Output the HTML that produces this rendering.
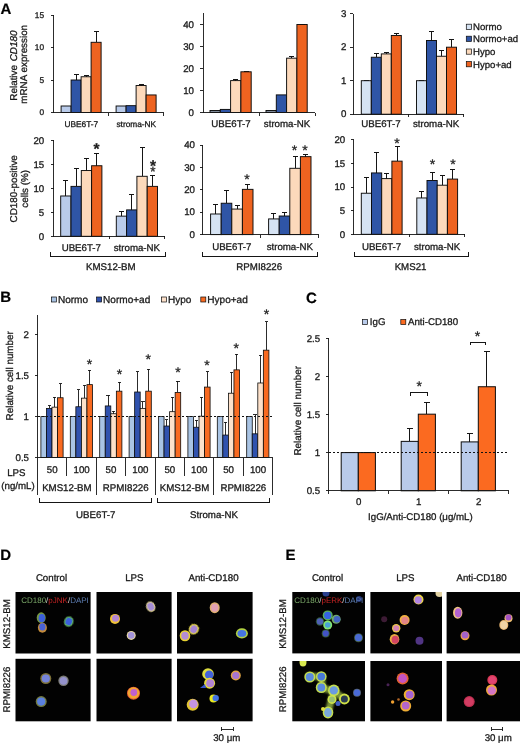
<!DOCTYPE html>
<html lang="en"><head><meta charset="utf-8"><title>Figure</title>
<style>html,body{margin:0;padding:0;background:#fff}svg{display:block}text{font-family:"Liberation Sans",Arial,sans-serif;text-rendering:geometricPrecision}</style>
</head><body>
<svg width="520" height="745" viewBox="0 0 520 745">
<rect width="520" height="745" fill="#fff"/>
<defs>
<filter id="b1" x="-40%" y="-40%" width="180%" height="180%"><feGaussianBlur stdDeviation="0.72"/></filter>
<filter id="b2" x="-30%" y="-30%" width="160%" height="160%"><feGaussianBlur stdDeviation="1.1"/></filter>
</defs>
<text x="0.6" y="13.9" font-size="15" fill="#000" stroke="#000" stroke-width="0.2" font-weight="bold">A</text>
<text transform="translate(17.2 65.6) rotate(-90)" font-size="9.9" word-spacing="1" text-anchor="middle" fill="#1a1a1a" stroke="#1a1a1a" stroke-width="0.3">Relative <tspan font-style="italic">CD180</tspan></text>
<text x="27.5" y="64.3" font-size="9.85" fill="#1a1a1a" stroke="#1a1a1a" stroke-width="0.3" text-anchor="middle" transform="rotate(-90 27.5 64.3)">mRNA expression</text>
<rect x="61.1" y="106" width="10" height="6.5" fill="#b9cbea" stroke="#0c0c0c" stroke-width="0.95"/>
<line x1="76.1" y1="80" x2="76.1" y2="74.15" stroke="#151515" stroke-width="1" shape-rendering="crispEdges"/>
<line x1="73.6" y1="74.15" x2="78.6" y2="74.15" stroke="#151515" stroke-width="1" shape-rendering="crispEdges"/>
<rect x="71.1" y="80" width="10" height="32.5" fill="#2f55a6" stroke="#0c0c0c" stroke-width="0.95"/>
<line x1="86.1" y1="76.75" x2="86.1" y2="75.78" stroke="#151515" stroke-width="1" shape-rendering="crispEdges"/>
<line x1="83.6" y1="75.78" x2="88.6" y2="75.78" stroke="#151515" stroke-width="1" shape-rendering="crispEdges"/>
<rect x="81.1" y="76.75" width="10" height="35.75" fill="#fcd9bb" stroke="#0c0c0c" stroke-width="0.95"/>
<line x1="96.1" y1="42.3" x2="96.1" y2="31.9" stroke="#151515" stroke-width="1" shape-rendering="crispEdges"/>
<line x1="93.6" y1="31.9" x2="98.6" y2="31.9" stroke="#151515" stroke-width="1" shape-rendering="crispEdges"/>
<rect x="91.1" y="42.3" width="10" height="70.2" fill="#ee6320" stroke="#0c0c0c" stroke-width="0.95"/>
<rect x="116.1" y="106" width="10" height="6.5" fill="#b9cbea" stroke="#0c0c0c" stroke-width="0.95"/>
<rect x="126.1" y="105.67" width="10" height="6.83" fill="#2f55a6" stroke="#0c0c0c" stroke-width="0.95"/>
<line x1="141.1" y1="85.53" x2="141.1" y2="84.88" stroke="#151515" stroke-width="1" shape-rendering="crispEdges"/>
<line x1="138.6" y1="84.88" x2="143.6" y2="84.88" stroke="#151515" stroke-width="1" shape-rendering="crispEdges"/>
<rect x="136.1" y="85.53" width="10" height="26.97" fill="#fcd9bb" stroke="#0c0c0c" stroke-width="0.95"/>
<rect x="146.1" y="94.95" width="10" height="17.55" fill="#ee6320" stroke="#0c0c0c" stroke-width="0.95"/>
<line x1="53.8" y1="15" x2="53.8" y2="112.9" stroke="#151515" stroke-width="0.9" shape-rendering="crispEdges"/>
<line x1="53.4" y1="112.5" x2="163.8" y2="112.5" stroke="#151515" stroke-width="0.9" shape-rendering="crispEdges"/>
<line x1="108.8" y1="112.5" x2="108.8" y2="115.5" stroke="#151515" stroke-width="0.9" shape-rendering="crispEdges"/>
<line x1="163.8" y1="112.5" x2="163.8" y2="115.5" stroke="#151515" stroke-width="0.9" shape-rendering="crispEdges"/>
<line x1="50.8" y1="112.5" x2="53.8" y2="112.5" stroke="#151515" stroke-width="0.9" shape-rendering="crispEdges"/>
<text x="44.1" y="115.28" font-size="8.3" fill="#1a1a1a" stroke="#1a1a1a" stroke-width="0.3" text-anchor="end">0</text>
<line x1="50.8" y1="80" x2="53.8" y2="80" stroke="#151515" stroke-width="0.9" shape-rendering="crispEdges"/>
<text x="44.1" y="82.78" font-size="8.3" fill="#1a1a1a" stroke="#1a1a1a" stroke-width="0.3" text-anchor="end">5</text>
<line x1="50.8" y1="47.5" x2="53.8" y2="47.5" stroke="#151515" stroke-width="0.9" shape-rendering="crispEdges"/>
<text x="44.1" y="50.28" font-size="8.3" fill="#1a1a1a" stroke="#1a1a1a" stroke-width="0.3" text-anchor="end">10</text>
<line x1="50.8" y1="15" x2="53.8" y2="15" stroke="#151515" stroke-width="0.9" shape-rendering="crispEdges"/>
<text x="44.1" y="17.78" font-size="8.3" fill="#1a1a1a" stroke="#1a1a1a" stroke-width="0.3" text-anchor="end">15</text>
<text x="81.3" y="126.6" font-size="8.3" fill="#1a1a1a" stroke="#1a1a1a" stroke-width="0.3" text-anchor="middle">UBE6T-7</text>
<text x="136.3" y="126.6" font-size="8.3" fill="#1a1a1a" stroke="#1a1a1a" stroke-width="0.3" text-anchor="middle">stroma-NK</text>
<rect x="210" y="110.52" width="10.3" height="1.98" fill="#7f8a99" stroke="#0c0c0c" stroke-width="0.95"/>
<rect x="220.3" y="109.42" width="10.3" height="3.08" fill="#2f55a6" stroke="#0c0c0c" stroke-width="0.95"/>
<line x1="235.75" y1="80.6" x2="235.75" y2="79.5" stroke="#151515" stroke-width="1" shape-rendering="crispEdges"/>
<line x1="233.25" y1="79.5" x2="238.25" y2="79.5" stroke="#151515" stroke-width="1" shape-rendering="crispEdges"/>
<rect x="230.6" y="80.6" width="10.3" height="31.9" fill="#fcd9bb" stroke="#0c0c0c" stroke-width="0.95"/>
<line x1="246.05" y1="71.8" x2="246.05" y2="71.14" stroke="#151515" stroke-width="1" shape-rendering="crispEdges"/>
<line x1="243.55" y1="71.14" x2="248.55" y2="71.14" stroke="#151515" stroke-width="1" shape-rendering="crispEdges"/>
<rect x="240.9" y="71.8" width="10.3" height="40.7" fill="#ee6320" stroke="#0c0c0c" stroke-width="0.95"/>
<rect x="266" y="110.52" width="10.3" height="1.98" fill="#7f8a99" stroke="#0c0c0c" stroke-width="0.95"/>
<rect x="276.3" y="94.9" width="10.3" height="17.6" fill="#2f55a6" stroke="#0c0c0c" stroke-width="0.95"/>
<line x1="291.75" y1="58.16" x2="291.75" y2="56.84" stroke="#151515" stroke-width="1" shape-rendering="crispEdges"/>
<line x1="289.25" y1="56.84" x2="294.25" y2="56.84" stroke="#151515" stroke-width="1" shape-rendering="crispEdges"/>
<rect x="286.6" y="58.16" width="10.3" height="54.34" fill="#fcd9bb" stroke="#0c0c0c" stroke-width="0.95"/>
<line x1="302.05" y1="24.5" x2="302.05" y2="24.06" stroke="#151515" stroke-width="1" shape-rendering="crispEdges"/>
<line x1="299.55" y1="24.06" x2="304.55" y2="24.06" stroke="#151515" stroke-width="1" shape-rendering="crispEdges"/>
<rect x="296.9" y="24.5" width="10.3" height="88" fill="#ee6320" stroke="#0c0c0c" stroke-width="0.95"/>
<line x1="203" y1="13" x2="203" y2="112.9" stroke="#151515" stroke-width="0.9" shape-rendering="crispEdges"/>
<line x1="202.6" y1="112.5" x2="315" y2="112.5" stroke="#151515" stroke-width="0.9" shape-rendering="crispEdges"/>
<line x1="259" y1="112.5" x2="259" y2="115.5" stroke="#151515" stroke-width="0.9" shape-rendering="crispEdges"/>
<line x1="315" y1="112.5" x2="315" y2="115.5" stroke="#151515" stroke-width="0.9" shape-rendering="crispEdges"/>
<line x1="200" y1="112.5" x2="203" y2="112.5" stroke="#151515" stroke-width="0.9" shape-rendering="crispEdges"/>
<text x="194" y="115.75" font-size="9.7" fill="#1a1a1a" stroke="#1a1a1a" stroke-width="0.3" text-anchor="end">0</text>
<line x1="200" y1="90.5" x2="203" y2="90.5" stroke="#151515" stroke-width="0.9" shape-rendering="crispEdges"/>
<text x="194" y="93.75" font-size="9.7" fill="#1a1a1a" stroke="#1a1a1a" stroke-width="0.3" text-anchor="end">10</text>
<line x1="200" y1="68.5" x2="203" y2="68.5" stroke="#151515" stroke-width="0.9" shape-rendering="crispEdges"/>
<text x="194" y="71.75" font-size="9.7" fill="#1a1a1a" stroke="#1a1a1a" stroke-width="0.3" text-anchor="end">20</text>
<line x1="200" y1="46.5" x2="203" y2="46.5" stroke="#151515" stroke-width="0.9" shape-rendering="crispEdges"/>
<text x="194" y="49.75" font-size="9.7" fill="#1a1a1a" stroke="#1a1a1a" stroke-width="0.3" text-anchor="end">30</text>
<line x1="200" y1="24.5" x2="203" y2="24.5" stroke="#151515" stroke-width="0.9" shape-rendering="crispEdges"/>
<text x="194" y="27.75" font-size="9.7" fill="#1a1a1a" stroke="#1a1a1a" stroke-width="0.3" text-anchor="end">40</text>
<text x="231" y="127.1" font-size="9.7" fill="#1a1a1a" stroke="#1a1a1a" stroke-width="0.3" text-anchor="middle">UBE6T-7</text>
<text x="287" y="127.1" font-size="9.7" fill="#1a1a1a" stroke="#1a1a1a" stroke-width="0.3" text-anchor="middle">stroma-NK</text>
<line x1="366.3" y1="80.7" x2="366.3" y2="80.03" stroke="#151515" stroke-width="1" shape-rendering="crispEdges"/>
<line x1="363.8" y1="80.03" x2="368.8" y2="80.03" stroke="#151515" stroke-width="1" shape-rendering="crispEdges"/>
<rect x="361.3" y="80.7" width="10" height="33.5" fill="#d6e3f3" stroke="#0c0c0c" stroke-width="0.95"/>
<line x1="376.3" y1="57.25" x2="376.3" y2="53.56" stroke="#151515" stroke-width="1" shape-rendering="crispEdges"/>
<line x1="373.8" y1="53.56" x2="378.8" y2="53.56" stroke="#151515" stroke-width="1" shape-rendering="crispEdges"/>
<rect x="371.3" y="57.25" width="10" height="56.95" fill="#2f55a6" stroke="#0c0c0c" stroke-width="0.95"/>
<line x1="386.3" y1="53.9" x2="386.3" y2="52.23" stroke="#151515" stroke-width="1" shape-rendering="crispEdges"/>
<line x1="383.8" y1="52.23" x2="388.8" y2="52.23" stroke="#151515" stroke-width="1" shape-rendering="crispEdges"/>
<rect x="381.3" y="53.9" width="10" height="60.3" fill="#fcd9bb" stroke="#0c0c0c" stroke-width="0.95"/>
<line x1="396.3" y1="35.47" x2="396.3" y2="33.47" stroke="#151515" stroke-width="1" shape-rendering="crispEdges"/>
<line x1="393.8" y1="33.47" x2="398.8" y2="33.47" stroke="#151515" stroke-width="1" shape-rendering="crispEdges"/>
<rect x="391.3" y="35.47" width="10" height="78.73" fill="#ee6320" stroke="#0c0c0c" stroke-width="0.95"/>
<line x1="421.5" y1="80.7" x2="421.5" y2="80.03" stroke="#151515" stroke-width="1" shape-rendering="crispEdges"/>
<line x1="419" y1="80.03" x2="424" y2="80.03" stroke="#151515" stroke-width="1" shape-rendering="crispEdges"/>
<rect x="416.5" y="80.7" width="10" height="33.5" fill="#d6e3f3" stroke="#0c0c0c" stroke-width="0.95"/>
<line x1="431.5" y1="40.5" x2="431.5" y2="31.79" stroke="#151515" stroke-width="1" shape-rendering="crispEdges"/>
<line x1="429" y1="31.79" x2="434" y2="31.79" stroke="#151515" stroke-width="1" shape-rendering="crispEdges"/>
<rect x="426.5" y="40.5" width="10" height="73.7" fill="#2f55a6" stroke="#0c0c0c" stroke-width="0.95"/>
<line x1="441.5" y1="56.25" x2="441.5" y2="50.55" stroke="#151515" stroke-width="1" shape-rendering="crispEdges"/>
<line x1="439" y1="50.55" x2="444" y2="50.55" stroke="#151515" stroke-width="1" shape-rendering="crispEdges"/>
<rect x="436.5" y="56.25" width="10" height="57.95" fill="#fcd9bb" stroke="#0c0c0c" stroke-width="0.95"/>
<line x1="451.5" y1="47.2" x2="451.5" y2="39.83" stroke="#151515" stroke-width="1" shape-rendering="crispEdges"/>
<line x1="449" y1="39.83" x2="454" y2="39.83" stroke="#151515" stroke-width="1" shape-rendering="crispEdges"/>
<rect x="446.5" y="47.2" width="10" height="67" fill="#ee6320" stroke="#0c0c0c" stroke-width="0.95"/>
<line x1="353.3" y1="13.5" x2="353.3" y2="114.6" stroke="#151515" stroke-width="0.9" shape-rendering="crispEdges"/>
<line x1="352.9" y1="114.2" x2="463.7" y2="114.2" stroke="#151515" stroke-width="0.9" shape-rendering="crispEdges"/>
<line x1="408.5" y1="114.2" x2="408.5" y2="117.2" stroke="#151515" stroke-width="0.9" shape-rendering="crispEdges"/>
<line x1="463.7" y1="114.2" x2="463.7" y2="117.2" stroke="#151515" stroke-width="0.9" shape-rendering="crispEdges"/>
<line x1="350.3" y1="114.2" x2="353.3" y2="114.2" stroke="#151515" stroke-width="0.9" shape-rendering="crispEdges"/>
<text x="346.3" y="117.45" font-size="9.7" fill="#1a1a1a" stroke="#1a1a1a" stroke-width="0.3" text-anchor="end">0</text>
<line x1="350.3" y1="80.7" x2="353.3" y2="80.7" stroke="#151515" stroke-width="0.9" shape-rendering="crispEdges"/>
<text x="346.3" y="83.95" font-size="9.7" fill="#1a1a1a" stroke="#1a1a1a" stroke-width="0.3" text-anchor="end">1</text>
<line x1="350.3" y1="47.2" x2="353.3" y2="47.2" stroke="#151515" stroke-width="0.9" shape-rendering="crispEdges"/>
<text x="346.3" y="50.45" font-size="9.7" fill="#1a1a1a" stroke="#1a1a1a" stroke-width="0.3" text-anchor="end">2</text>
<line x1="350.3" y1="13.7" x2="353.3" y2="13.7" stroke="#151515" stroke-width="0.9" shape-rendering="crispEdges"/>
<text x="346.3" y="16.95" font-size="9.7" fill="#1a1a1a" stroke="#1a1a1a" stroke-width="0.3" text-anchor="end">3</text>
<text x="380.9" y="127.1" font-size="9.7" fill="#1a1a1a" stroke="#1a1a1a" stroke-width="0.3" text-anchor="middle">UBE6T-7</text>
<text x="436.1" y="127.1" font-size="9.7" fill="#1a1a1a" stroke="#1a1a1a" stroke-width="0.3" text-anchor="middle">stroma-NK</text>
<rect x="466.3" y="24.2" width="5.2" height="5.2" fill="#d6e3f3" stroke="#0c0c0c" stroke-width="0.7"/>
<text x="473" y="30.2" font-size="9.6" fill="#1a1a1a" stroke="#1a1a1a" stroke-width="0.3">Normo</text>
<rect x="466.3" y="36.2" width="5.2" height="5.2" fill="#2f55a6" stroke="#0c0c0c" stroke-width="0.7"/>
<text x="473" y="42.2" font-size="9.6" fill="#1a1a1a" stroke="#1a1a1a" stroke-width="0.3">Normo+ad</text>
<rect x="466.3" y="49" width="5.2" height="5.2" fill="#fcd9bb" stroke="#0c0c0c" stroke-width="0.7"/>
<text x="473" y="55" font-size="9.6" fill="#1a1a1a" stroke="#1a1a1a" stroke-width="0.3">Hypo</text>
<rect x="466.3" y="61.6" width="5.2" height="5.2" fill="#ee6320" stroke="#0c0c0c" stroke-width="0.7"/>
<text x="473" y="67.6" font-size="9.6" fill="#1a1a1a" stroke="#1a1a1a" stroke-width="0.3">Hypo+ad</text>
<text x="16.6" y="188.8" font-size="9.85" fill="#1a1a1a" stroke="#1a1a1a" stroke-width="0.3" text-anchor="middle" transform="rotate(-90 16.6 188.8)">CD180-positive</text>
<text x="27.8" y="188.8" font-size="9.85" fill="#1a1a1a" stroke="#1a1a1a" stroke-width="0.3" text-anchor="middle" transform="rotate(-90 27.8 188.8)">cells (%)</text>
<line x1="65.85" y1="195.98" x2="65.85" y2="180.14" stroke="#151515" stroke-width="1" shape-rendering="crispEdges"/>
<line x1="63.35" y1="180.14" x2="68.35" y2="180.14" stroke="#151515" stroke-width="1" shape-rendering="crispEdges"/>
<rect x="60.7" y="195.98" width="10.3" height="40.32" fill="#b9cbea" stroke="#0c0c0c" stroke-width="0.95"/>
<line x1="76.15" y1="186.38" x2="76.15" y2="168.14" stroke="#151515" stroke-width="1" shape-rendering="crispEdges"/>
<line x1="73.65" y1="168.14" x2="78.65" y2="168.14" stroke="#151515" stroke-width="1" shape-rendering="crispEdges"/>
<rect x="71" y="186.38" width="10.3" height="49.92" fill="#2f55a6" stroke="#0c0c0c" stroke-width="0.95"/>
<line x1="86.45" y1="170.54" x2="86.45" y2="158.54" stroke="#151515" stroke-width="1" shape-rendering="crispEdges"/>
<line x1="83.95" y1="158.54" x2="88.95" y2="158.54" stroke="#151515" stroke-width="1" shape-rendering="crispEdges"/>
<rect x="81.3" y="170.54" width="10.3" height="65.76" fill="#fcd9bb" stroke="#0c0c0c" stroke-width="0.95"/>
<line x1="96.75" y1="165.74" x2="96.75" y2="153.74" stroke="#151515" stroke-width="1" shape-rendering="crispEdges"/>
<line x1="94.25" y1="153.74" x2="99.25" y2="153.74" stroke="#151515" stroke-width="1" shape-rendering="crispEdges"/>
<rect x="91.6" y="165.74" width="10.3" height="70.56" fill="#ee6320" stroke="#0c0c0c" stroke-width="0.95"/>
<line x1="121.45" y1="216.14" x2="121.45" y2="211.34" stroke="#151515" stroke-width="1" shape-rendering="crispEdges"/>
<line x1="118.95" y1="211.34" x2="123.95" y2="211.34" stroke="#151515" stroke-width="1" shape-rendering="crispEdges"/>
<rect x="116.3" y="216.14" width="10.3" height="20.16" fill="#b9cbea" stroke="#0c0c0c" stroke-width="0.95"/>
<line x1="131.75" y1="209.9" x2="131.75" y2="194.06" stroke="#151515" stroke-width="1" shape-rendering="crispEdges"/>
<line x1="129.25" y1="194.06" x2="134.25" y2="194.06" stroke="#151515" stroke-width="1" shape-rendering="crispEdges"/>
<rect x="126.6" y="209.9" width="10.3" height="26.4" fill="#2f55a6" stroke="#0c0c0c" stroke-width="0.95"/>
<line x1="142.05" y1="176.3" x2="142.05" y2="147.5" stroke="#151515" stroke-width="1" shape-rendering="crispEdges"/>
<line x1="139.55" y1="147.5" x2="144.55" y2="147.5" stroke="#151515" stroke-width="1" shape-rendering="crispEdges"/>
<rect x="136.9" y="176.3" width="10.3" height="60" fill="#fcd9bb" stroke="#0c0c0c" stroke-width="0.95"/>
<line x1="152.35" y1="186.38" x2="152.35" y2="175.82" stroke="#151515" stroke-width="1" shape-rendering="crispEdges"/>
<line x1="149.85" y1="175.82" x2="154.85" y2="175.82" stroke="#151515" stroke-width="1" shape-rendering="crispEdges"/>
<rect x="147.2" y="186.38" width="10.3" height="49.92" fill="#ee6320" stroke="#0c0c0c" stroke-width="0.95"/>
<line x1="53.5" y1="140.3" x2="53.5" y2="236.7" stroke="#151515" stroke-width="0.9" shape-rendering="crispEdges"/>
<line x1="53.1" y1="236.3" x2="164.7" y2="236.3" stroke="#151515" stroke-width="0.9" shape-rendering="crispEdges"/>
<line x1="109.1" y1="236.3" x2="109.1" y2="239.3" stroke="#151515" stroke-width="0.9" shape-rendering="crispEdges"/>
<line x1="164.7" y1="236.3" x2="164.7" y2="239.3" stroke="#151515" stroke-width="0.9" shape-rendering="crispEdges"/>
<line x1="50.5" y1="236.3" x2="53.5" y2="236.3" stroke="#151515" stroke-width="0.9" shape-rendering="crispEdges"/>
<text x="44.2" y="239.55" font-size="9.7" fill="#1a1a1a" stroke="#1a1a1a" stroke-width="0.3" text-anchor="end">0</text>
<line x1="50.5" y1="212.3" x2="53.5" y2="212.3" stroke="#151515" stroke-width="0.9" shape-rendering="crispEdges"/>
<text x="44.2" y="215.55" font-size="9.7" fill="#1a1a1a" stroke="#1a1a1a" stroke-width="0.3" text-anchor="end">5</text>
<line x1="50.5" y1="188.3" x2="53.5" y2="188.3" stroke="#151515" stroke-width="0.9" shape-rendering="crispEdges"/>
<text x="44.2" y="191.55" font-size="9.7" fill="#1a1a1a" stroke="#1a1a1a" stroke-width="0.3" text-anchor="end">10</text>
<line x1="50.5" y1="164.3" x2="53.5" y2="164.3" stroke="#151515" stroke-width="0.9" shape-rendering="crispEdges"/>
<text x="44.2" y="167.55" font-size="9.7" fill="#1a1a1a" stroke="#1a1a1a" stroke-width="0.3" text-anchor="end">15</text>
<line x1="50.5" y1="140.3" x2="53.5" y2="140.3" stroke="#151515" stroke-width="0.9" shape-rendering="crispEdges"/>
<text x="44.2" y="143.55" font-size="9.7" fill="#1a1a1a" stroke="#1a1a1a" stroke-width="0.3" text-anchor="end">20</text>
<text x="81.3" y="251.4" font-size="9.7" fill="#1a1a1a" stroke="#1a1a1a" stroke-width="0.3" text-anchor="middle">UBE6T-7</text>
<text x="136.9" y="251.4" font-size="9.7" fill="#1a1a1a" stroke="#1a1a1a" stroke-width="0.3" text-anchor="middle">stroma-NK</text>
<text x="96.4" y="154.16" font-size="15.5" fill="#1a1a1a" stroke="#1a1a1a" stroke-width="0.3" text-anchor="middle" font-weight="bold">*</text>
<text x="153" y="170.66" font-size="15.5" fill="#1a1a1a" stroke="#1a1a1a" stroke-width="0.3" text-anchor="middle" font-weight="bold">*</text>
<text x="153" y="175.52" font-size="13.5" fill="#1a1a1a" stroke="#1a1a1a" stroke-width="0.3" text-anchor="middle">*</text>
<line x1="215.9" y1="213.99" x2="215.9" y2="204.14" stroke="#151515" stroke-width="1" shape-rendering="crispEdges"/>
<line x1="213.4" y1="204.14" x2="218.4" y2="204.14" stroke="#151515" stroke-width="1" shape-rendering="crispEdges"/>
<rect x="210.6" y="213.99" width="10.6" height="20.61" fill="#d6e3f3" stroke="#0c0c0c" stroke-width="0.95"/>
<line x1="226.5" y1="203.24" x2="226.5" y2="190.25" stroke="#151515" stroke-width="1" shape-rendering="crispEdges"/>
<line x1="224" y1="190.25" x2="229" y2="190.25" stroke="#151515" stroke-width="1" shape-rendering="crispEdges"/>
<rect x="221.2" y="203.24" width="10.6" height="31.36" fill="#2f55a6" stroke="#0c0c0c" stroke-width="0.95"/>
<line x1="237.1" y1="209.06" x2="237.1" y2="205.93" stroke="#151515" stroke-width="1" shape-rendering="crispEdges"/>
<line x1="234.6" y1="205.93" x2="239.6" y2="205.93" stroke="#151515" stroke-width="1" shape-rendering="crispEdges"/>
<rect x="231.8" y="209.06" width="10.6" height="25.54" fill="#fcd9bb" stroke="#0c0c0c" stroke-width="0.95"/>
<line x1="247.7" y1="189.35" x2="247.7" y2="184.2" stroke="#151515" stroke-width="1" shape-rendering="crispEdges"/>
<line x1="245.2" y1="184.2" x2="250.2" y2="184.2" stroke="#151515" stroke-width="1" shape-rendering="crispEdges"/>
<rect x="242.4" y="189.35" width="10.6" height="45.25" fill="#ee6320" stroke="#0c0c0c" stroke-width="0.95"/>
<line x1="273.9" y1="218.92" x2="273.9" y2="213.77" stroke="#151515" stroke-width="1" shape-rendering="crispEdges"/>
<line x1="271.4" y1="213.77" x2="276.4" y2="213.77" stroke="#151515" stroke-width="1" shape-rendering="crispEdges"/>
<rect x="268.6" y="218.92" width="10.6" height="15.68" fill="#d6e3f3" stroke="#0c0c0c" stroke-width="0.95"/>
<line x1="284.5" y1="216.01" x2="284.5" y2="212.42" stroke="#151515" stroke-width="1" shape-rendering="crispEdges"/>
<line x1="282" y1="212.42" x2="287" y2="212.42" stroke="#151515" stroke-width="1" shape-rendering="crispEdges"/>
<rect x="279.2" y="216.01" width="10.6" height="18.59" fill="#2f55a6" stroke="#0c0c0c" stroke-width="0.95"/>
<line x1="295.1" y1="168.3" x2="295.1" y2="156.2" stroke="#151515" stroke-width="1" shape-rendering="crispEdges"/>
<line x1="292.6" y1="156.2" x2="297.6" y2="156.2" stroke="#151515" stroke-width="1" shape-rendering="crispEdges"/>
<rect x="289.8" y="168.3" width="10.6" height="66.3" fill="#fcd9bb" stroke="#0c0c0c" stroke-width="0.95"/>
<line x1="305.7" y1="156.65" x2="305.7" y2="154.41" stroke="#151515" stroke-width="1" shape-rendering="crispEdges"/>
<line x1="303.2" y1="154.41" x2="308.2" y2="154.41" stroke="#151515" stroke-width="1" shape-rendering="crispEdges"/>
<rect x="300.4" y="156.65" width="10.6" height="77.95" fill="#ee6320" stroke="#0c0c0c" stroke-width="0.95"/>
<line x1="202.8" y1="145.2" x2="202.8" y2="235" stroke="#151515" stroke-width="0.9" shape-rendering="crispEdges"/>
<line x1="202.4" y1="234.6" x2="318.8" y2="234.6" stroke="#151515" stroke-width="0.9" shape-rendering="crispEdges"/>
<line x1="260.8" y1="234.6" x2="260.8" y2="237.6" stroke="#151515" stroke-width="0.9" shape-rendering="crispEdges"/>
<line x1="318.8" y1="234.6" x2="318.8" y2="237.6" stroke="#151515" stroke-width="0.9" shape-rendering="crispEdges"/>
<line x1="199.8" y1="234.6" x2="202.8" y2="234.6" stroke="#151515" stroke-width="0.9" shape-rendering="crispEdges"/>
<text x="195" y="237.85" font-size="9.7" fill="#1a1a1a" stroke="#1a1a1a" stroke-width="0.3" text-anchor="end">0</text>
<line x1="199.8" y1="212.2" x2="202.8" y2="212.2" stroke="#151515" stroke-width="0.9" shape-rendering="crispEdges"/>
<text x="195" y="215.45" font-size="9.7" fill="#1a1a1a" stroke="#1a1a1a" stroke-width="0.3" text-anchor="end">10</text>
<line x1="199.8" y1="189.8" x2="202.8" y2="189.8" stroke="#151515" stroke-width="0.9" shape-rendering="crispEdges"/>
<text x="195" y="193.05" font-size="9.7" fill="#1a1a1a" stroke="#1a1a1a" stroke-width="0.3" text-anchor="end">20</text>
<line x1="199.8" y1="167.4" x2="202.8" y2="167.4" stroke="#151515" stroke-width="0.9" shape-rendering="crispEdges"/>
<text x="195" y="170.65" font-size="9.7" fill="#1a1a1a" stroke="#1a1a1a" stroke-width="0.3" text-anchor="end">30</text>
<line x1="199.8" y1="145" x2="202.8" y2="145" stroke="#151515" stroke-width="0.9" shape-rendering="crispEdges"/>
<text x="195" y="148.25" font-size="9.7" fill="#1a1a1a" stroke="#1a1a1a" stroke-width="0.3" text-anchor="end">40</text>
<text x="231.8" y="250.4" font-size="9.7" fill="#1a1a1a" stroke="#1a1a1a" stroke-width="0.3" text-anchor="middle">UBE6T-7</text>
<text x="289.8" y="250.4" font-size="9.7" fill="#1a1a1a" stroke="#1a1a1a" stroke-width="0.3" text-anchor="middle">stroma-NK</text>
<text x="247" y="184.08" font-size="14" fill="#1a1a1a" stroke="#1a1a1a" stroke-width="0.3" text-anchor="middle">*</text>
<text x="294.5" y="155.28" font-size="14" fill="#1a1a1a" stroke="#1a1a1a" stroke-width="0.3" text-anchor="middle">*</text>
<text x="305" y="155.28" font-size="14" fill="#1a1a1a" stroke="#1a1a1a" stroke-width="0.3" text-anchor="middle">*</text>
<line x1="366.4" y1="193.24" x2="366.4" y2="177.66" stroke="#151515" stroke-width="1" shape-rendering="crispEdges"/>
<line x1="363.9" y1="177.66" x2="368.9" y2="177.66" stroke="#151515" stroke-width="1" shape-rendering="crispEdges"/>
<rect x="361.3" y="193.24" width="10.2" height="41.06" fill="#d6e3f3" stroke="#0c0c0c" stroke-width="0.95"/>
<line x1="376.6" y1="172.94" x2="376.6" y2="152.17" stroke="#151515" stroke-width="1" shape-rendering="crispEdges"/>
<line x1="374.1" y1="152.17" x2="379.1" y2="152.17" stroke="#151515" stroke-width="1" shape-rendering="crispEdges"/>
<rect x="371.5" y="172.94" width="10.2" height="61.36" fill="#2f55a6" stroke="#0c0c0c" stroke-width="0.95"/>
<line x1="386.8" y1="178.6" x2="386.8" y2="173.41" stroke="#151515" stroke-width="1" shape-rendering="crispEdges"/>
<line x1="384.3" y1="173.41" x2="389.3" y2="173.41" stroke="#151515" stroke-width="1" shape-rendering="crispEdges"/>
<rect x="381.7" y="178.6" width="10.2" height="55.7" fill="#fcd9bb" stroke="#0c0c0c" stroke-width="0.95"/>
<line x1="397" y1="161.14" x2="397" y2="146.04" stroke="#151515" stroke-width="1" shape-rendering="crispEdges"/>
<line x1="394.5" y1="146.04" x2="399.5" y2="146.04" stroke="#151515" stroke-width="1" shape-rendering="crispEdges"/>
<rect x="391.9" y="161.14" width="10.2" height="73.16" fill="#ee6320" stroke="#0c0c0c" stroke-width="0.95"/>
<line x1="421.9" y1="197.96" x2="421.9" y2="191.35" stroke="#151515" stroke-width="1" shape-rendering="crispEdges"/>
<line x1="419.4" y1="191.35" x2="424.4" y2="191.35" stroke="#151515" stroke-width="1" shape-rendering="crispEdges"/>
<rect x="416.8" y="197.96" width="10.2" height="36.34" fill="#d6e3f3" stroke="#0c0c0c" stroke-width="0.95"/>
<line x1="432.1" y1="180.49" x2="432.1" y2="172" stroke="#151515" stroke-width="1" shape-rendering="crispEdges"/>
<line x1="429.6" y1="172" x2="434.6" y2="172" stroke="#151515" stroke-width="1" shape-rendering="crispEdges"/>
<rect x="427" y="180.49" width="10.2" height="53.81" fill="#2f55a6" stroke="#0c0c0c" stroke-width="0.95"/>
<line x1="442.3" y1="185.21" x2="442.3" y2="175.77" stroke="#151515" stroke-width="1" shape-rendering="crispEdges"/>
<line x1="439.8" y1="175.77" x2="444.8" y2="175.77" stroke="#151515" stroke-width="1" shape-rendering="crispEdges"/>
<rect x="437.2" y="185.21" width="10.2" height="49.09" fill="#fcd9bb" stroke="#0c0c0c" stroke-width="0.95"/>
<line x1="452.5" y1="179.08" x2="452.5" y2="169.64" stroke="#151515" stroke-width="1" shape-rendering="crispEdges"/>
<line x1="450" y1="169.64" x2="455" y2="169.64" stroke="#151515" stroke-width="1" shape-rendering="crispEdges"/>
<rect x="447.4" y="179.08" width="10.2" height="55.22" fill="#ee6320" stroke="#0c0c0c" stroke-width="0.95"/>
<line x1="353.8" y1="139.9" x2="353.8" y2="234.7" stroke="#151515" stroke-width="0.9" shape-rendering="crispEdges"/>
<line x1="353.4" y1="234.3" x2="464.8" y2="234.3" stroke="#151515" stroke-width="0.9" shape-rendering="crispEdges"/>
<line x1="409.3" y1="234.3" x2="409.3" y2="237.3" stroke="#151515" stroke-width="0.9" shape-rendering="crispEdges"/>
<line x1="464.8" y1="234.3" x2="464.8" y2="237.3" stroke="#151515" stroke-width="0.9" shape-rendering="crispEdges"/>
<line x1="350.8" y1="234.3" x2="353.8" y2="234.3" stroke="#151515" stroke-width="0.9" shape-rendering="crispEdges"/>
<text x="345.2" y="237.55" font-size="9.7" fill="#1a1a1a" stroke="#1a1a1a" stroke-width="0.3" text-anchor="end">0</text>
<line x1="350.8" y1="210.7" x2="353.8" y2="210.7" stroke="#151515" stroke-width="0.9" shape-rendering="crispEdges"/>
<text x="345.2" y="213.95" font-size="9.7" fill="#1a1a1a" stroke="#1a1a1a" stroke-width="0.3" text-anchor="end">5</text>
<line x1="350.8" y1="187.1" x2="353.8" y2="187.1" stroke="#151515" stroke-width="0.9" shape-rendering="crispEdges"/>
<text x="345.2" y="190.35" font-size="9.7" fill="#1a1a1a" stroke="#1a1a1a" stroke-width="0.3" text-anchor="end">10</text>
<line x1="350.8" y1="163.5" x2="353.8" y2="163.5" stroke="#151515" stroke-width="0.9" shape-rendering="crispEdges"/>
<text x="345.2" y="166.75" font-size="9.7" fill="#1a1a1a" stroke="#1a1a1a" stroke-width="0.3" text-anchor="end">15</text>
<line x1="350.8" y1="139.9" x2="353.8" y2="139.9" stroke="#151515" stroke-width="0.9" shape-rendering="crispEdges"/>
<text x="345.2" y="143.15" font-size="9.7" fill="#1a1a1a" stroke="#1a1a1a" stroke-width="0.3" text-anchor="end">20</text>
<text x="381.55" y="250" font-size="9.7" fill="#1a1a1a" stroke="#1a1a1a" stroke-width="0.3" text-anchor="middle">UBE6T-7</text>
<text x="437.05" y="250" font-size="9.7" fill="#1a1a1a" stroke="#1a1a1a" stroke-width="0.3" text-anchor="middle">stroma-NK</text>
<text x="397" y="147.78" font-size="14" fill="#1a1a1a" stroke="#1a1a1a" stroke-width="0.3" text-anchor="middle">*</text>
<text x="432.5" y="169.08" font-size="14" fill="#1a1a1a" stroke="#1a1a1a" stroke-width="0.3" text-anchor="middle">*</text>
<text x="453" y="169.08" font-size="14" fill="#1a1a1a" stroke="#1a1a1a" stroke-width="0.3" text-anchor="middle">*</text>
<path d="M50.7 252.4 V256.5 H165 V252.4" fill="none" stroke="#151515" stroke-width="1" shape-rendering="crispEdges"/>
<text x="110.85" y="269.5" font-size="9.7" fill="#1a1a1a" stroke="#1a1a1a" stroke-width="0.3" text-anchor="middle">KMS12-BM</text>
<path d="M202.2 252.4 V256.5 H317.3 V252.4" fill="none" stroke="#151515" stroke-width="1" shape-rendering="crispEdges"/>
<text x="259.25" y="269.5" font-size="9.7" fill="#1a1a1a" stroke="#1a1a1a" stroke-width="0.3" text-anchor="middle">RPMI8226</text>
<path d="M354.3 252.4 V256.5 H468.8 V252.4" fill="none" stroke="#151515" stroke-width="1" shape-rendering="crispEdges"/>
<text x="410.55" y="269.5" font-size="9.7" fill="#1a1a1a" stroke="#1a1a1a" stroke-width="0.3" text-anchor="middle">KMS21</text>
<text x="0.35" y="302.2" font-size="15" fill="#000" stroke="#000" stroke-width="0.2" font-weight="bold">B</text>
<rect x="51.4" y="297" width="5" height="5" fill="#a9c4e4" stroke="#0c0c0c" stroke-width="0.7"/>
<text x="57.9" y="302.6" font-size="10.05" fill="#1a1a1a" stroke="#1a1a1a" stroke-width="0.3">Normo</text>
<rect x="96.6" y="297" width="5" height="5" fill="#3052ae" stroke="#0c0c0c" stroke-width="0.7"/>
<text x="103.1" y="302.6" font-size="10.05" fill="#1a1a1a" stroke="#1a1a1a" stroke-width="0.3">Normo+ad</text>
<rect x="161.4" y="297" width="5" height="5" fill="#fde1ca" stroke="#0c0c0c" stroke-width="0.7"/>
<text x="167.9" y="302.6" font-size="10.05" fill="#1a1a1a" stroke="#1a1a1a" stroke-width="0.3">Hypo</text>
<rect x="200.8" y="297" width="5" height="5" fill="#f96a20" stroke="#0c0c0c" stroke-width="0.7"/>
<text x="207.3" y="302.6" font-size="10.05" fill="#1a1a1a" stroke="#1a1a1a" stroke-width="0.3">Hypo+ad</text>
<rect x="40.9" y="416.6" width="5.55" height="41" fill="#a9c4e4" stroke="#0c0c0c" stroke-width="0.8"/>
<line x1="49.22" y1="408.4" x2="49.22" y2="405.53" stroke="#151515" stroke-width="0.9" shape-rendering="crispEdges"/>
<line x1="47.62" y1="405.53" x2="50.82" y2="405.53" stroke="#151515" stroke-width="0.9" shape-rendering="crispEdges"/>
<rect x="46.45" y="408.4" width="5.55" height="49.2" fill="#3052ae" stroke="#0c0c0c" stroke-width="0.8"/>
<line x1="54.77" y1="407.17" x2="54.77" y2="397.33" stroke="#151515" stroke-width="0.9" shape-rendering="crispEdges"/>
<line x1="53.17" y1="397.33" x2="56.38" y2="397.33" stroke="#151515" stroke-width="0.9" shape-rendering="crispEdges"/>
<rect x="52" y="407.17" width="5.55" height="50.43" fill="#fde1ca" stroke="#0c0c0c" stroke-width="0.8"/>
<line x1="60.32" y1="397.74" x2="60.32" y2="383.8" stroke="#151515" stroke-width="0.9" shape-rendering="crispEdges"/>
<line x1="58.72" y1="383.8" x2="61.92" y2="383.8" stroke="#151515" stroke-width="0.9" shape-rendering="crispEdges"/>
<rect x="57.55" y="397.74" width="5.55" height="59.86" fill="#f96a20" stroke="#0c0c0c" stroke-width="0.8"/>
<rect x="70.3" y="416.6" width="5.55" height="41" fill="#a9c4e4" stroke="#0c0c0c" stroke-width="0.8"/>
<line x1="78.63" y1="406.76" x2="78.63" y2="389.95" stroke="#151515" stroke-width="0.9" shape-rendering="crispEdges"/>
<line x1="77.03" y1="389.95" x2="80.23" y2="389.95" stroke="#151515" stroke-width="0.9" shape-rendering="crispEdges"/>
<rect x="75.85" y="406.76" width="5.55" height="50.84" fill="#3052ae" stroke="#0c0c0c" stroke-width="0.8"/>
<line x1="84.18" y1="398.15" x2="84.18" y2="385.03" stroke="#151515" stroke-width="0.9" shape-rendering="crispEdges"/>
<line x1="82.58" y1="385.03" x2="85.78" y2="385.03" stroke="#151515" stroke-width="0.9" shape-rendering="crispEdges"/>
<rect x="81.4" y="398.15" width="5.55" height="59.45" fill="#fde1ca" stroke="#0c0c0c" stroke-width="0.8"/>
<line x1="89.73" y1="384.62" x2="89.73" y2="370.27" stroke="#151515" stroke-width="0.9" shape-rendering="crispEdges"/>
<line x1="88.13" y1="370.27" x2="91.33" y2="370.27" stroke="#151515" stroke-width="0.9" shape-rendering="crispEdges"/>
<rect x="86.95" y="384.62" width="5.55" height="72.98" fill="#f96a20" stroke="#0c0c0c" stroke-width="0.8"/>
<text x="89.5" y="369.28" font-size="14" fill="#1a1a1a" stroke="#1a1a1a" stroke-width="0.3" text-anchor="middle">*</text>
<rect x="99.7" y="416.6" width="5.55" height="41" fill="#a9c4e4" stroke="#0c0c0c" stroke-width="0.8"/>
<line x1="108.03" y1="405.94" x2="108.03" y2="395.28" stroke="#151515" stroke-width="0.9" shape-rendering="crispEdges"/>
<line x1="106.43" y1="395.28" x2="109.62" y2="395.28" stroke="#151515" stroke-width="0.9" shape-rendering="crispEdges"/>
<rect x="105.25" y="405.94" width="5.55" height="51.66" fill="#3052ae" stroke="#0c0c0c" stroke-width="0.8"/>
<line x1="113.58" y1="413.73" x2="113.58" y2="411.27" stroke="#151515" stroke-width="0.9" shape-rendering="crispEdges"/>
<line x1="111.98" y1="411.27" x2="115.17" y2="411.27" stroke="#151515" stroke-width="0.9" shape-rendering="crispEdges"/>
<rect x="110.8" y="413.73" width="5.55" height="43.87" fill="#fde1ca" stroke="#0c0c0c" stroke-width="0.8"/>
<line x1="119.12" y1="391.18" x2="119.12" y2="382.16" stroke="#151515" stroke-width="0.9" shape-rendering="crispEdges"/>
<line x1="117.53" y1="382.16" x2="120.72" y2="382.16" stroke="#151515" stroke-width="0.9" shape-rendering="crispEdges"/>
<rect x="116.35" y="391.18" width="5.55" height="66.42" fill="#f96a20" stroke="#0c0c0c" stroke-width="0.8"/>
<text x="119.5" y="379.28" font-size="14" fill="#1a1a1a" stroke="#1a1a1a" stroke-width="0.3" text-anchor="middle">*</text>
<rect x="129.1" y="416.6" width="5.55" height="41" fill="#a9c4e4" stroke="#0c0c0c" stroke-width="0.8"/>
<line x1="137.43" y1="392" x2="137.43" y2="371.91" stroke="#151515" stroke-width="0.9" shape-rendering="crispEdges"/>
<line x1="135.83" y1="371.91" x2="139.03" y2="371.91" stroke="#151515" stroke-width="0.9" shape-rendering="crispEdges"/>
<rect x="134.65" y="392" width="5.55" height="65.6" fill="#3052ae" stroke="#0c0c0c" stroke-width="0.8"/>
<line x1="142.97" y1="408.4" x2="142.97" y2="401.84" stroke="#151515" stroke-width="0.9" shape-rendering="crispEdges"/>
<line x1="141.38" y1="401.84" x2="144.57" y2="401.84" stroke="#151515" stroke-width="0.9" shape-rendering="crispEdges"/>
<rect x="140.2" y="408.4" width="5.55" height="49.2" fill="#fde1ca" stroke="#0c0c0c" stroke-width="0.8"/>
<line x1="148.53" y1="391.18" x2="148.53" y2="369.04" stroke="#151515" stroke-width="0.9" shape-rendering="crispEdges"/>
<line x1="146.93" y1="369.04" x2="150.12" y2="369.04" stroke="#151515" stroke-width="0.9" shape-rendering="crispEdges"/>
<rect x="145.75" y="391.18" width="5.55" height="66.42" fill="#f96a20" stroke="#0c0c0c" stroke-width="0.8"/>
<text x="148.3" y="364.28" font-size="14" fill="#1a1a1a" stroke="#1a1a1a" stroke-width="0.3" text-anchor="middle">*</text>
<rect x="158.5" y="416.6" width="5.55" height="41" fill="#a9c4e4" stroke="#0c0c0c" stroke-width="0.8"/>
<line x1="166.83" y1="426.03" x2="166.83" y2="419.88" stroke="#151515" stroke-width="0.9" shape-rendering="crispEdges"/>
<line x1="165.23" y1="419.88" x2="168.43" y2="419.88" stroke="#151515" stroke-width="0.9" shape-rendering="crispEdges"/>
<rect x="164.05" y="426.03" width="5.55" height="31.57" fill="#3052ae" stroke="#0c0c0c" stroke-width="0.8"/>
<line x1="172.38" y1="411.68" x2="172.38" y2="397.33" stroke="#151515" stroke-width="0.9" shape-rendering="crispEdges"/>
<line x1="170.78" y1="397.33" x2="173.97" y2="397.33" stroke="#151515" stroke-width="0.9" shape-rendering="crispEdges"/>
<rect x="169.6" y="411.68" width="5.55" height="45.92" fill="#fde1ca" stroke="#0c0c0c" stroke-width="0.8"/>
<line x1="177.93" y1="392.41" x2="177.93" y2="381.34" stroke="#151515" stroke-width="0.9" shape-rendering="crispEdges"/>
<line x1="176.33" y1="381.34" x2="179.53" y2="381.34" stroke="#151515" stroke-width="0.9" shape-rendering="crispEdges"/>
<rect x="175.15" y="392.41" width="5.55" height="65.19" fill="#f96a20" stroke="#0c0c0c" stroke-width="0.8"/>
<text x="178" y="376.78" font-size="14" fill="#1a1a1a" stroke="#1a1a1a" stroke-width="0.3" text-anchor="middle">*</text>
<rect x="187.9" y="416.6" width="5.55" height="41" fill="#a9c4e4" stroke="#0c0c0c" stroke-width="0.8"/>
<line x1="196.23" y1="427.26" x2="196.23" y2="420.29" stroke="#151515" stroke-width="0.9" shape-rendering="crispEdges"/>
<line x1="194.63" y1="420.29" x2="197.83" y2="420.29" stroke="#151515" stroke-width="0.9" shape-rendering="crispEdges"/>
<rect x="193.45" y="427.26" width="5.55" height="30.34" fill="#3052ae" stroke="#0c0c0c" stroke-width="0.8"/>
<line x1="201.78" y1="416.19" x2="201.78" y2="397.33" stroke="#151515" stroke-width="0.9" shape-rendering="crispEdges"/>
<line x1="200.18" y1="397.33" x2="203.38" y2="397.33" stroke="#151515" stroke-width="0.9" shape-rendering="crispEdges"/>
<rect x="199" y="416.19" width="5.55" height="41.41" fill="#fde1ca" stroke="#0c0c0c" stroke-width="0.8"/>
<line x1="207.33" y1="387.08" x2="207.33" y2="371.91" stroke="#151515" stroke-width="0.9" shape-rendering="crispEdges"/>
<line x1="205.73" y1="371.91" x2="208.93" y2="371.91" stroke="#151515" stroke-width="0.9" shape-rendering="crispEdges"/>
<rect x="204.55" y="387.08" width="5.55" height="70.52" fill="#f96a20" stroke="#0c0c0c" stroke-width="0.8"/>
<text x="207" y="369.78" font-size="14" fill="#1a1a1a" stroke="#1a1a1a" stroke-width="0.3" text-anchor="middle">*</text>
<rect x="217.3" y="416.6" width="5.55" height="41" fill="#a9c4e4" stroke="#0c0c0c" stroke-width="0.8"/>
<line x1="225.62" y1="435.05" x2="225.62" y2="422.34" stroke="#151515" stroke-width="0.9" shape-rendering="crispEdges"/>
<line x1="224.03" y1="422.34" x2="227.22" y2="422.34" stroke="#151515" stroke-width="0.9" shape-rendering="crispEdges"/>
<rect x="222.85" y="435.05" width="5.55" height="22.55" fill="#3052ae" stroke="#0c0c0c" stroke-width="0.8"/>
<line x1="231.17" y1="393.23" x2="231.17" y2="372.32" stroke="#151515" stroke-width="0.9" shape-rendering="crispEdges"/>
<line x1="229.57" y1="372.32" x2="232.77" y2="372.32" stroke="#151515" stroke-width="0.9" shape-rendering="crispEdges"/>
<rect x="228.4" y="393.23" width="5.55" height="64.37" fill="#fde1ca" stroke="#0c0c0c" stroke-width="0.8"/>
<line x1="236.72" y1="369.86" x2="236.72" y2="354.28" stroke="#151515" stroke-width="0.9" shape-rendering="crispEdges"/>
<line x1="235.12" y1="354.28" x2="238.32" y2="354.28" stroke="#151515" stroke-width="0.9" shape-rendering="crispEdges"/>
<rect x="233.95" y="369.86" width="5.55" height="87.74" fill="#f96a20" stroke="#0c0c0c" stroke-width="0.8"/>
<text x="236.3" y="352.78" font-size="14" fill="#1a1a1a" stroke="#1a1a1a" stroke-width="0.3" text-anchor="middle">*</text>
<rect x="246.7" y="416.6" width="5.55" height="41" fill="#a9c4e4" stroke="#0c0c0c" stroke-width="0.8"/>
<line x1="255.03" y1="433.82" x2="255.03" y2="414.96" stroke="#151515" stroke-width="0.9" shape-rendering="crispEdges"/>
<line x1="253.43" y1="414.96" x2="256.62" y2="414.96" stroke="#151515" stroke-width="0.9" shape-rendering="crispEdges"/>
<rect x="252.25" y="433.82" width="5.55" height="23.78" fill="#3052ae" stroke="#0c0c0c" stroke-width="0.8"/>
<line x1="260.57" y1="382.98" x2="260.57" y2="355.1" stroke="#151515" stroke-width="0.9" shape-rendering="crispEdges"/>
<line x1="258.97" y1="355.1" x2="262.18" y2="355.1" stroke="#151515" stroke-width="0.9" shape-rendering="crispEdges"/>
<rect x="257.8" y="382.98" width="5.55" height="74.62" fill="#fde1ca" stroke="#0c0c0c" stroke-width="0.8"/>
<line x1="266.12" y1="350.18" x2="266.12" y2="321.89" stroke="#151515" stroke-width="0.9" shape-rendering="crispEdges"/>
<line x1="264.52" y1="321.89" x2="267.72" y2="321.89" stroke="#151515" stroke-width="0.9" shape-rendering="crispEdges"/>
<rect x="263.35" y="350.18" width="5.55" height="107.42" fill="#f96a20" stroke="#0c0c0c" stroke-width="0.8"/>
<text x="266.6" y="319.28" font-size="14" fill="#1a1a1a" stroke="#1a1a1a" stroke-width="0.3" text-anchor="middle">*</text>
<line x1="37.5" y1="416.6" x2="273.8" y2="416.6" stroke="#111" stroke-width="1" shape-rendering="crispEdges" stroke-dasharray="2.6 1.4"/>
<line x1="37.5" y1="314.5" x2="37.5" y2="457.6" stroke="#151515" stroke-width="0.9" shape-rendering="crispEdges"/>
<line x1="37.5" y1="457.6" x2="272.7" y2="457.6" stroke="#151515" stroke-width="0.9" shape-rendering="crispEdges"/>
<line x1="34.5" y1="457.6" x2="37.5" y2="457.6" stroke="#151515" stroke-width="0.9" shape-rendering="crispEdges"/>
<text x="29" y="461.1" font-size="9.7" fill="#1a1a1a" stroke="#1a1a1a" stroke-width="0.3" text-anchor="end">0.5</text>
<line x1="34.5" y1="416.6" x2="37.5" y2="416.6" stroke="#151515" stroke-width="0.9" shape-rendering="crispEdges"/>
<text x="29" y="420.1" font-size="9.7" fill="#1a1a1a" stroke="#1a1a1a" stroke-width="0.3" text-anchor="end">1</text>
<line x1="34.5" y1="375.6" x2="37.5" y2="375.6" stroke="#151515" stroke-width="0.9" shape-rendering="crispEdges"/>
<text x="29" y="379.1" font-size="9.7" fill="#1a1a1a" stroke="#1a1a1a" stroke-width="0.3" text-anchor="end">1.5</text>
<line x1="34.5" y1="334.6" x2="37.5" y2="334.6" stroke="#151515" stroke-width="0.9" shape-rendering="crispEdges"/>
<text x="29" y="338.1" font-size="9.7" fill="#1a1a1a" stroke="#1a1a1a" stroke-width="0.3" text-anchor="end">2</text>
<text x="12.7" y="375.8" font-size="9.85" fill="#1a1a1a" stroke="#1a1a1a" stroke-width="0.3" text-anchor="middle" transform="rotate(-90 12.7 375.8)">Relative cell number</text>
<line x1="37.5" y1="457.6" x2="37.5" y2="494.8" stroke="#151515" stroke-width="0.9" shape-rendering="crispEdges"/>
<line x1="66.9" y1="457.6" x2="66.9" y2="476" stroke="#151515" stroke-width="0.9" shape-rendering="crispEdges"/>
<line x1="96.3" y1="457.6" x2="96.3" y2="494.8" stroke="#151515" stroke-width="0.9" shape-rendering="crispEdges"/>
<line x1="125.7" y1="457.6" x2="125.7" y2="476" stroke="#151515" stroke-width="0.9" shape-rendering="crispEdges"/>
<line x1="155.1" y1="457.6" x2="155.1" y2="494.8" stroke="#151515" stroke-width="0.9" shape-rendering="crispEdges"/>
<line x1="184.5" y1="457.6" x2="184.5" y2="476" stroke="#151515" stroke-width="0.9" shape-rendering="crispEdges"/>
<line x1="213.9" y1="457.6" x2="213.9" y2="494.8" stroke="#151515" stroke-width="0.9" shape-rendering="crispEdges"/>
<line x1="243.3" y1="457.6" x2="243.3" y2="476" stroke="#151515" stroke-width="0.9" shape-rendering="crispEdges"/>
<line x1="272.7" y1="457.6" x2="272.7" y2="494.8" stroke="#151515" stroke-width="0.9" shape-rendering="crispEdges"/>
<text x="52.2" y="472.7" font-size="9.7" fill="#1a1a1a" stroke="#1a1a1a" stroke-width="0.3" text-anchor="middle">50</text>
<text x="81.6" y="472.7" font-size="9.7" fill="#1a1a1a" stroke="#1a1a1a" stroke-width="0.3" text-anchor="middle">100</text>
<text x="111" y="472.7" font-size="9.7" fill="#1a1a1a" stroke="#1a1a1a" stroke-width="0.3" text-anchor="middle">50</text>
<text x="140.4" y="472.7" font-size="9.7" fill="#1a1a1a" stroke="#1a1a1a" stroke-width="0.3" text-anchor="middle">100</text>
<text x="169.8" y="472.7" font-size="9.7" fill="#1a1a1a" stroke="#1a1a1a" stroke-width="0.3" text-anchor="middle">50</text>
<text x="199.2" y="472.7" font-size="9.7" fill="#1a1a1a" stroke="#1a1a1a" stroke-width="0.3" text-anchor="middle">100</text>
<text x="228.6" y="472.7" font-size="9.7" fill="#1a1a1a" stroke="#1a1a1a" stroke-width="0.3" text-anchor="middle">50</text>
<text x="258" y="472.7" font-size="9.7" fill="#1a1a1a" stroke="#1a1a1a" stroke-width="0.3" text-anchor="middle">100</text>
<text x="66.9" y="490.6" font-size="9.7" fill="#1a1a1a" stroke="#1a1a1a" stroke-width="0.3" text-anchor="middle">KMS12-BM</text>
<text x="125.7" y="490.6" font-size="9.7" fill="#1a1a1a" stroke="#1a1a1a" stroke-width="0.3" text-anchor="middle">RPMI8226</text>
<text x="184.5" y="490.6" font-size="9.7" fill="#1a1a1a" stroke="#1a1a1a" stroke-width="0.3" text-anchor="middle">KMS12-BM</text>
<text x="243.3" y="490.6" font-size="9.7" fill="#1a1a1a" stroke="#1a1a1a" stroke-width="0.3" text-anchor="middle">RPMI8226</text>
<text x="16.3" y="476" font-size="9.7" fill="#1a1a1a" stroke="#1a1a1a" stroke-width="0.3" text-anchor="middle">LPS</text>
<text x="18" y="488.6" font-size="9.7" fill="#1a1a1a" stroke="#1a1a1a" stroke-width="0.3" text-anchor="middle">(ng/mL)</text>
<path d="M39 497.6 V502 H151.5 V497.6" fill="none" stroke="#151515" stroke-width="1" shape-rendering="crispEdges"/>
<text x="95.75" y="518" font-size="9.7" fill="#1a1a1a" stroke="#1a1a1a" stroke-width="0.3" text-anchor="middle">UBE6T-7</text>
<path d="M157.9 497.6 V502 H269.2 V497.6" fill="none" stroke="#151515" stroke-width="1" shape-rendering="crispEdges"/>
<text x="214.05" y="518" font-size="9.7" fill="#1a1a1a" stroke="#1a1a1a" stroke-width="0.3" text-anchor="middle">Stroma-NK</text>
<text x="306" y="302.5" font-size="15" fill="#000" stroke="#000" stroke-width="0.2" font-weight="bold">C</text>
<rect x="362.5" y="319.5" width="5" height="5" fill="#b9cbea" stroke="#0c0c0c" stroke-width="0.7"/>
<text x="369.8" y="325.2" font-size="9.7" fill="#1a1a1a" stroke="#1a1a1a" stroke-width="0.3">IgG</text>
<rect x="400.8" y="319.5" width="5" height="5" fill="#fb6a20" stroke="#0c0c0c" stroke-width="0.7"/>
<text x="408" y="325.2" font-size="9.7" fill="#1a1a1a" stroke="#1a1a1a" stroke-width="0.3">Anti-CD180</text>
<line x1="349.75" y1="452.6" x2="349.75" y2="452.22" stroke="#151515" stroke-width="1" shape-rendering="crispEdges"/>
<line x1="347" y1="452.22" x2="352.5" y2="452.22" stroke="#151515" stroke-width="1" shape-rendering="crispEdges"/>
<rect x="341.2" y="452.6" width="17.1" height="38.2" fill="#b9cbea" stroke="#0c0c0c" stroke-width="1"/>
<line x1="366.85" y1="452.6" x2="366.85" y2="452.22" stroke="#151515" stroke-width="1" shape-rendering="crispEdges"/>
<line x1="364.1" y1="452.22" x2="369.6" y2="452.22" stroke="#151515" stroke-width="1" shape-rendering="crispEdges"/>
<rect x="358.3" y="452.6" width="17.1" height="38.2" fill="#fb6a20" stroke="#0c0c0c" stroke-width="1"/>
<line x1="409.75" y1="441.37" x2="409.75" y2="428.15" stroke="#151515" stroke-width="1" shape-rendering="crispEdges"/>
<line x1="407" y1="428.15" x2="412.5" y2="428.15" stroke="#151515" stroke-width="1" shape-rendering="crispEdges"/>
<rect x="401.2" y="441.37" width="17.1" height="49.43" fill="#b9cbea" stroke="#0c0c0c" stroke-width="1"/>
<line x1="426.85" y1="414.17" x2="426.85" y2="402.94" stroke="#151515" stroke-width="1" shape-rendering="crispEdges"/>
<line x1="424.1" y1="402.94" x2="429.6" y2="402.94" stroke="#151515" stroke-width="1" shape-rendering="crispEdges"/>
<rect x="418.3" y="414.17" width="17.1" height="76.63" fill="#fb6a20" stroke="#0c0c0c" stroke-width="1"/>
<line x1="469.75" y1="441.9" x2="469.75" y2="433.88" stroke="#151515" stroke-width="1" shape-rendering="crispEdges"/>
<line x1="467" y1="433.88" x2="472.5" y2="433.88" stroke="#151515" stroke-width="1" shape-rendering="crispEdges"/>
<rect x="461.2" y="441.9" width="17.1" height="48.9" fill="#b9cbea" stroke="#0c0c0c" stroke-width="1"/>
<line x1="486.85" y1="386.74" x2="486.85" y2="351.75" stroke="#151515" stroke-width="1" shape-rendering="crispEdges"/>
<line x1="484.1" y1="351.75" x2="489.6" y2="351.75" stroke="#151515" stroke-width="1" shape-rendering="crispEdges"/>
<rect x="478.3" y="386.74" width="17.1" height="104.06" fill="#fb6a20" stroke="#0c0c0c" stroke-width="1"/>
<line x1="328.8" y1="452.6" x2="508.5" y2="452.6" stroke="#111" stroke-width="1" shape-rendering="crispEdges" stroke-dasharray="2.6 1.4"/>
<line x1="328.8" y1="338" x2="328.8" y2="490.8" stroke="#151515" stroke-width="0.9" shape-rendering="crispEdges"/>
<line x1="328.8" y1="490.8" x2="508.8" y2="490.8" stroke="#151515" stroke-width="0.9" shape-rendering="crispEdges"/>
<line x1="328.8" y1="490.8" x2="328.8" y2="493.8" stroke="#151515" stroke-width="0.9" shape-rendering="crispEdges"/>
<line x1="388.8" y1="490.8" x2="388.8" y2="493.8" stroke="#151515" stroke-width="0.9" shape-rendering="crispEdges"/>
<line x1="448.8" y1="490.8" x2="448.8" y2="493.8" stroke="#151515" stroke-width="0.9" shape-rendering="crispEdges"/>
<line x1="508.8" y1="490.8" x2="508.8" y2="493.8" stroke="#151515" stroke-width="0.9" shape-rendering="crispEdges"/>
<line x1="325.8" y1="490.8" x2="328.8" y2="490.8" stroke="#151515" stroke-width="0.9" shape-rendering="crispEdges"/>
<text x="320.1" y="494.3" font-size="9.7" fill="#1a1a1a" stroke="#1a1a1a" stroke-width="0.3" text-anchor="end">0.5</text>
<line x1="325.8" y1="452.6" x2="328.8" y2="452.6" stroke="#151515" stroke-width="0.9" shape-rendering="crispEdges"/>
<text x="320.1" y="456.1" font-size="9.7" fill="#1a1a1a" stroke="#1a1a1a" stroke-width="0.3" text-anchor="end">1</text>
<line x1="325.8" y1="414.4" x2="328.8" y2="414.4" stroke="#151515" stroke-width="0.9" shape-rendering="crispEdges"/>
<text x="320.1" y="417.9" font-size="9.7" fill="#1a1a1a" stroke="#1a1a1a" stroke-width="0.3" text-anchor="end">1.5</text>
<line x1="325.8" y1="376.2" x2="328.8" y2="376.2" stroke="#151515" stroke-width="0.9" shape-rendering="crispEdges"/>
<text x="320.1" y="379.7" font-size="9.7" fill="#1a1a1a" stroke="#1a1a1a" stroke-width="0.3" text-anchor="end">2</text>
<line x1="325.8" y1="338" x2="328.8" y2="338" stroke="#151515" stroke-width="0.9" shape-rendering="crispEdges"/>
<text x="320.1" y="341.5" font-size="9.7" fill="#1a1a1a" stroke="#1a1a1a" stroke-width="0.3" text-anchor="end">2.5</text>
<text x="358.8" y="505.4" font-size="9.7" fill="#1a1a1a" stroke="#1a1a1a" stroke-width="0.3" text-anchor="middle">0</text>
<text x="418.8" y="505.4" font-size="9.7" fill="#1a1a1a" stroke="#1a1a1a" stroke-width="0.3" text-anchor="middle">1</text>
<text x="478.8" y="505.4" font-size="9.7" fill="#1a1a1a" stroke="#1a1a1a" stroke-width="0.3" text-anchor="middle">2</text>
<text x="420.4" y="520.4" font-size="9.7" fill="#1a1a1a" stroke="#1a1a1a" stroke-width="0.3" text-anchor="middle">IgG/Anti-CD180 (μg/mL)</text>
<text x="301.5" y="410.8" font-size="9.9" fill="#1a1a1a" stroke="#1a1a1a" stroke-width="0.3" text-anchor="middle" transform="rotate(-90 301.5 410.8)">Relative cell number</text>
<path d="M410.5 396 V392.5 H427.5 V396" fill="none" stroke="#151515" stroke-width="1" shape-rendering="crispEdges"/>
<text x="419.3" y="390.58" font-size="14" fill="#1a1a1a" stroke="#1a1a1a" stroke-width="0.3" text-anchor="middle">*</text>
<path d="M470.5 345.3 V342 H485.8 V345.3" fill="none" stroke="#151515" stroke-width="1" shape-rendering="crispEdges"/>
<text x="477.5" y="340.58" font-size="14" fill="#1a1a1a" stroke="#1a1a1a" stroke-width="0.3" text-anchor="middle">*</text>
<text x="0.35" y="560.2" font-size="15" fill="#000" stroke="#000" stroke-width="0.2" font-weight="bold">D</text>
<text x="285.6" y="560.2" font-size="15" fill="#000" stroke="#000" stroke-width="0.2" font-weight="bold">E</text>
<text x="51.5" y="581.3" font-size="9.7" fill="#1a1a1a" stroke="#1a1a1a" stroke-width="0.3" text-anchor="middle">Control</text>
<text x="134.3" y="581.3" font-size="9.7" fill="#1a1a1a" stroke="#1a1a1a" stroke-width="0.3" text-anchor="middle">LPS</text>
<text x="213.5" y="581.3" font-size="9.7" fill="#1a1a1a" stroke="#1a1a1a" stroke-width="0.3" text-anchor="middle">Anti-CD180</text>
<text x="327.5" y="581.3" font-size="9.7" fill="#1a1a1a" stroke="#1a1a1a" stroke-width="0.3" text-anchor="middle">Control</text>
<text x="405.3" y="581.3" font-size="9.7" fill="#1a1a1a" stroke="#1a1a1a" stroke-width="0.3" text-anchor="middle">LPS</text>
<text x="481.5" y="581.3" font-size="9.7" fill="#1a1a1a" stroke="#1a1a1a" stroke-width="0.3" text-anchor="middle">Anti-CD180</text>
<text x="9.8" y="624" font-size="9.7" fill="#1a1a1a" stroke="#1a1a1a" stroke-width="0.3" text-anchor="middle" transform="rotate(-90 9.8 624)">KMS12-BM</text>
<text x="9.8" y="689.6" font-size="9.7" fill="#1a1a1a" stroke="#1a1a1a" stroke-width="0.3" text-anchor="middle" transform="rotate(-90 9.8 689.6)">RPMI8226</text>
<text x="285.7" y="624" font-size="9.7" fill="#1a1a1a" stroke="#1a1a1a" stroke-width="0.3" text-anchor="middle" transform="rotate(-90 285.7 624)">KMS12-BM</text>
<text x="285.7" y="689.3" font-size="9.7" fill="#1a1a1a" stroke="#1a1a1a" stroke-width="0.3" text-anchor="middle" transform="rotate(-90 285.7 689.3)">RPMI8226</text>
<rect x="15.5" y="592" width="75.1" height="61.5" fill="#020202"/>
<rect x="15.5" y="658.8" width="75.1" height="62.5" fill="#020202"/>
<rect x="96.5" y="592" width="75.1" height="61.5" fill="#020202"/>
<rect x="96.5" y="658.8" width="75.1" height="62.5" fill="#020202"/>
<rect x="177" y="592" width="75.6" height="61.5" fill="#020202"/>
<rect x="177" y="658.8" width="75.6" height="62.5" fill="#020202"/>
<rect x="292.3" y="592" width="72.7" height="61.4" fill="#020202"/>
<rect x="292.3" y="661" width="72.7" height="60.3" fill="#020202"/>
<rect x="370.4" y="592" width="71.6" height="61.4" fill="#020202"/>
<rect x="370.4" y="661" width="71.6" height="60.3" fill="#020202"/>
<rect x="446.6" y="592" width="73.4" height="61.4" fill="#020202"/>
<rect x="446.6" y="661" width="73.4" height="60.3" fill="#020202"/>
<clipPath id="cpE"><rect x="15.5" y="592" width="75.1" height="61.5"/><rect x="15.5" y="658.8" width="75.1" height="62.5"/><rect x="96.5" y="592" width="75.1" height="61.5"/><rect x="96.5" y="658.8" width="75.1" height="62.5"/><rect x="177" y="592" width="75.6" height="61.5"/><rect x="177" y="658.8" width="75.6" height="62.5"/><rect x="292.3" y="592" width="72.7" height="61.4"/><rect x="292.3" y="661" width="72.7" height="60.3"/><rect x="370.4" y="592" width="71.6" height="61.4"/><rect x="370.4" y="661" width="71.6" height="60.3"/><rect x="446.6" y="592" width="73.4" height="61.4"/><rect x="446.6" y="661" width="73.4" height="60.3"/></clipPath>
<g clip-path="url(#cpE)">
<g filter="url(#b1)">
<ellipse cx="41.2" cy="617.7" rx="4.5" ry="5.4" fill="#8ab050" opacity="0.85"/>
<ellipse cx="41.8" cy="618.2" rx="3.2" ry="4.1" fill="#3a5edc" opacity="1"/>
</g>
<g filter="url(#b1)">
<ellipse cx="42.4" cy="627.7" rx="4.5" ry="4.95" fill="#d89a40" opacity="0.9"/>
<ellipse cx="42.4" cy="626.9" rx="3.1" ry="3.55" fill="#4a62d6" opacity="1"/>
</g>
<g filter="url(#b1)" transform="rotate(20 68.8 621.5)">
<ellipse cx="68.8" cy="621.5" rx="4.7" ry="5.26" fill="#62b860" opacity="0.95"/>
<ellipse cx="68.8" cy="621.5" rx="3.3" ry="3.86" fill="#3a5edc" opacity="1"/>
</g>
<g filter="url(#b1)">
<ellipse cx="45.8" cy="678.5" rx="5.5" ry="5.5" fill="#9a8c44" opacity="0.8"/>
<ellipse cx="45.8" cy="678.5" rx="4.1" ry="4.1" fill="#7484da" opacity="1"/>
</g>
<g filter="url(#b1)">
<ellipse cx="63.5" cy="680.8" rx="5.2" ry="5.2" fill="#9a9a94" opacity="0.8"/>
<ellipse cx="63.5" cy="680.8" rx="3.9" ry="3.9" fill="#9492cc" opacity="1"/>
</g>
<g filter="url(#b1)">
<ellipse cx="41.2" cy="701.6" rx="5.5" ry="5.5" fill="#8e9850" opacity="0.8"/>
<ellipse cx="41.2" cy="701.6" rx="4.1" ry="4.1" fill="#5a80e0" opacity="1"/>
</g>
<g filter="url(#b1)">
<ellipse cx="115" cy="618.9" rx="5" ry="5" fill="#f0c238" opacity="1"/>
<ellipse cx="115.5" cy="618.3" rx="3.5" ry="3.5" fill="#b486d4" opacity="1"/>
</g>
<g filter="url(#b1)" transform="rotate(-25 150.7 606.6)">
<ellipse cx="150.7" cy="606.6" rx="4.5" ry="5.4" fill="#e4d690" opacity="1"/>
<ellipse cx="150.7" cy="606.6" rx="3.3" ry="4.2" fill="#a48cd4" opacity="1"/>
</g>
<g filter="url(#b1)">
<ellipse cx="131.2" cy="635.4" rx="4.5" ry="4.5" fill="#e6d8a2" opacity="1"/>
<ellipse cx="131.2" cy="635.4" rx="3.3" ry="3.3" fill="#a494da" opacity="1"/>
</g>
<g filter="url(#b1)">
<ellipse cx="133.5" cy="693.2" rx="6.5" ry="6.5" fill="#e85a34" opacity="0.9"/>
<ellipse cx="133.5" cy="693.2" rx="6" ry="6" fill="#e85a34" opacity="1"/>
</g>
<g filter="url(#b1)">
<ellipse cx="133.5" cy="693" rx="5.8" ry="5.8" fill="#f2a630" opacity="1"/>
<ellipse cx="133.8" cy="692.5" rx="3.4" ry="3.4" fill="#c060d0" opacity="1"/>
</g>
<g filter="url(#b1)">
<ellipse cx="214.7" cy="607.7" rx="5" ry="5.5" fill="#e0b070" opacity="1"/>
<ellipse cx="214.7" cy="607.7" rx="3.5" ry="4" fill="#e2a0b4" opacity="1"/>
</g>
<g filter="url(#b1)" transform="rotate(30 193.8 629.2)">
<ellipse cx="193.8" cy="629.2" rx="5" ry="5.5" fill="#e2d440" opacity="1"/>
<ellipse cx="193.8" cy="629.2" rx="3.5" ry="4" fill="#a684d4" opacity="1"/>
</g>
<g filter="url(#b1)">
<ellipse cx="185" cy="635.8" rx="5.3" ry="5.57" fill="#e8d232" opacity="1"/>
<ellipse cx="185" cy="635.8" rx="3.7" ry="3.97" fill="#b48cd4" opacity="1"/>
</g>
<g filter="url(#b1)">
<ellipse cx="241.9" cy="633.4" rx="6" ry="5.04" fill="#b2d242" opacity="1"/>
<ellipse cx="241.9" cy="633.4" rx="4.4" ry="3.44" fill="#4474e2" opacity="1"/>
</g>
<g filter="url(#b1)">
<ellipse cx="208" cy="674" rx="5.8" ry="5.8" fill="#dede40" opacity="1"/>
<ellipse cx="209.2" cy="674.8" rx="4.3" ry="4.3" fill="#4262da" opacity="1"/>
</g>
<g filter="url(#b1)">
<ellipse cx="209.6" cy="683.2" rx="5.5" ry="5.5" fill="#e6da3c" opacity="1"/>
<ellipse cx="210.2" cy="683.2" rx="4" ry="4" fill="#b284d2" opacity="1"/>
</g>
<g filter="url(#b1)">
<ellipse cx="235.8" cy="675.5" rx="5" ry="5" fill="#e0a444" opacity="1"/>
<ellipse cx="235.8" cy="675.5" rx="3.6" ry="3.6" fill="#a674d2" opacity="1"/>
</g>
<g filter="url(#b1)">
<ellipse cx="213.5" cy="698.5" rx="4" ry="4" fill="#e8e822" opacity="1"/>
<ellipse cx="215.7" cy="698.1" rx="3.2" ry="3.2" fill="#4272e2" opacity="1"/>
</g>
<g filter="url(#b1)">
<ellipse cx="192.7" cy="704.7" rx="6" ry="6" fill="#e2c432" opacity="1"/>
<ellipse cx="193.4" cy="703.9" rx="4.3" ry="4.3" fill="#c494e2" opacity="1"/>
</g>
<path d="M200 688 l5 -4 l1 4 z" fill="#3a5ae0" filter="url(#b1)" opacity="0.9"/>
<g filter="url(#b1)">
<ellipse cx="326" cy="593" rx="3.5" ry="3.5" fill="#3a5ac8" opacity="0.7"/>
</g>
<g filter="url(#b1)">
<ellipse cx="359" cy="599" rx="3" ry="3" fill="#3a5ac8" opacity="0.6"/>
</g>
<g filter="url(#b1)">
<ellipse cx="327.7" cy="615.4" rx="5" ry="5" fill="#62c262" opacity="0.9"/>
<ellipse cx="327.7" cy="615.4" rx="3.6" ry="3.6" fill="#3464e2" opacity="1"/>
</g>
<g filter="url(#b1)">
<ellipse cx="336.2" cy="619.2" rx="4.5" ry="4.5" fill="#8ad084" opacity="0.8"/>
<ellipse cx="337" cy="619.2" rx="3.3" ry="3.3" fill="#4262c4" opacity="1"/>
</g>
<g filter="url(#b1)">
<ellipse cx="320" cy="621.5" rx="4.2" ry="4.2" fill="#4a8a58" opacity="0.6"/>
<ellipse cx="320" cy="621.5" rx="3.2" ry="3.2" fill="#5262c4" opacity="0.9"/>
</g>
<g filter="url(#b1)">
<ellipse cx="327.7" cy="625" rx="4.5" ry="4.5" fill="#84e472" opacity="1"/>
<ellipse cx="327.7" cy="625" rx="2.8" ry="2.8" fill="#48a0d8" opacity="1"/>
</g>
<g filter="url(#b1)">
<ellipse cx="325.7" cy="633.4" rx="4" ry="4" fill="#5a9a50" opacity="0.6"/>
<ellipse cx="325.7" cy="633.4" rx="3.1" ry="3.1" fill="#4252c4" opacity="1"/>
</g>
<g filter="url(#b1)">
<ellipse cx="358.5" cy="637.7" rx="4.5" ry="4.5" fill="#6a9a70" opacity="0.6"/>
<ellipse cx="358.5" cy="637.7" rx="3.6" ry="3.6" fill="#4a6ad2" opacity="1"/>
</g>
<path d="M309 676 L322 677 L322 688 L334 691 L344 699 M334 691 L331 701 L328 713" stroke="#a4c44c" stroke-width="7" fill="none" stroke-linecap="round" stroke-linejoin="round" filter="url(#b2)" opacity="0.75"/>
<g filter="url(#b1)">
<ellipse cx="303" cy="662" rx="3.5" ry="4.55" fill="#d8e850" opacity="1"/>
<ellipse cx="303" cy="662" rx="2.5" ry="3.55" fill="#d8e850" opacity="1"/>
</g>
<g filter="url(#b1)">
<ellipse cx="309.8" cy="677" rx="5.5" ry="5.5" fill="#c4de50" opacity="1"/>
<ellipse cx="309.8" cy="677" rx="4" ry="4" fill="#5a8ade" opacity="1"/>
</g>
<g filter="url(#b1)">
<ellipse cx="321.3" cy="676.6" rx="5.3" ry="5.3" fill="#c4de50" opacity="1"/>
<ellipse cx="321.3" cy="676.6" rx="3.9" ry="3.9" fill="#4a7ad8" opacity="1"/>
</g>
<g filter="url(#b1)">
<ellipse cx="321.3" cy="687.5" rx="5.5" ry="5.5" fill="#c4de50" opacity="1"/>
<ellipse cx="321.3" cy="687.5" rx="3.9" ry="3.9" fill="#5a8ade" opacity="1"/>
</g>
<g filter="url(#b1)">
<ellipse cx="333.8" cy="690.4" rx="5.8" ry="5.8" fill="#c4de50" opacity="1"/>
<ellipse cx="333.8" cy="690.4" rx="4.2" ry="4.2" fill="#6a9ae0" opacity="1"/>
</g>
<g filter="url(#b1)">
<ellipse cx="332" cy="699.4" rx="4.5" ry="4.5" fill="#d0e448" opacity="1"/>
<ellipse cx="332" cy="699.4" rx="2.9" ry="2.9" fill="#9ac070" opacity="1"/>
</g>
<g filter="url(#b1)">
<ellipse cx="344.4" cy="699" rx="5.4" ry="5.4" fill="#cfe046" opacity="1"/>
<ellipse cx="344.4" cy="699" rx="3.5" ry="3.5" fill="#2a3a50" opacity="1"/>
</g>
<g filter="url(#b1)">
<ellipse cx="338" cy="703.5" rx="2.5" ry="2.5" fill="#4a6ad8" opacity="0.9"/>
</g>
<g filter="url(#b1)">
<ellipse cx="328" cy="712.5" rx="5.3" ry="6.09" fill="#c4de50" opacity="1"/>
<ellipse cx="328" cy="712.5" rx="3.8" ry="4.59" fill="#7aa8dc" opacity="1"/>
</g>
<g filter="url(#b1)">
<ellipse cx="323" cy="709" rx="2" ry="2" fill="#e0e040" opacity="1"/>
</g>
<g filter="url(#b1)">
<ellipse cx="357" cy="692.7" rx="4" ry="4" fill="#8aa0c0" opacity="0.6"/>
<ellipse cx="357" cy="692.7" rx="3.2" ry="3.2" fill="#4a6ad8" opacity="1"/>
</g>
<g filter="url(#b1)">
<ellipse cx="418.5" cy="599.5" rx="5" ry="5" fill="#ecd648" opacity="1"/>
<ellipse cx="418.2" cy="600" rx="3.7" ry="3.7" fill="#b284e2" opacity="1"/>
</g>
<g filter="url(#b1)">
<ellipse cx="439.5" cy="593" rx="4" ry="4" fill="#e2d2a2" opacity="1"/>
</g>
<g filter="url(#b1)">
<ellipse cx="404.6" cy="620" rx="5" ry="5" fill="#f0b240" opacity="1"/>
<ellipse cx="404.9" cy="620.4" rx="3.6" ry="3.6" fill="#e28486" opacity="1"/>
</g>
<g filter="url(#b1)">
<ellipse cx="396.2" cy="628.2" rx="4.2" ry="4.2" fill="#ecc848" opacity="1"/>
<ellipse cx="396.2" cy="628.2" rx="3" ry="3" fill="#d484b4" opacity="1"/>
</g>
<g filter="url(#b1)">
<ellipse cx="394.5" cy="639.2" rx="4.8" ry="5.18" fill="#e8b040" opacity="1"/>
<ellipse cx="395.2" cy="639.8" rx="3.6" ry="3.98" fill="#d24464" opacity="1"/>
</g>
<g filter="url(#b1)">
<ellipse cx="419.5" cy="640.8" rx="4" ry="4" fill="#5a3a92" opacity="0.9"/>
</g>
<g filter="url(#b1)">
<ellipse cx="384.2" cy="619.2" rx="3" ry="3" fill="#44203a" opacity="0.9"/>
</g>
<g filter="url(#b1)">
<ellipse cx="402.6" cy="678.5" rx="6" ry="6" fill="#e26232" opacity="1"/>
<ellipse cx="402.6" cy="678.5" rx="4.4" ry="4.4" fill="#c252c4" opacity="1"/>
</g>
<g filter="url(#b1)">
<ellipse cx="409.2" cy="694.7" rx="5.5" ry="5.5" fill="#f0b232" opacity="1"/>
<ellipse cx="409.7" cy="694.7" rx="3.9" ry="3.9" fill="#a664d4" opacity="1"/>
</g>
<g filter="url(#b1)">
<ellipse cx="405.7" cy="706" rx="5.5" ry="5.5" fill="#f0ae34" opacity="1"/>
<ellipse cx="405.7" cy="705.6" rx="3.9" ry="3.9" fill="#b466cc" opacity="1"/>
</g>
<g filter="url(#b1)">
<ellipse cx="392.6" cy="702" rx="1.7" ry="1.7" fill="#f0a030" opacity="1"/>
</g>
<g filter="url(#b1)">
<ellipse cx="398.5" cy="699.5" rx="1.3" ry="1.3" fill="#e08030" opacity="0.8"/>
</g>
<g filter="url(#b1)">
<ellipse cx="388" cy="684.7" rx="1.5" ry="1.5" fill="#5a2a6a" opacity="0.8"/>
</g>
<g filter="url(#b1)">
<ellipse cx="457.7" cy="612.8" rx="4.7" ry="6.02" fill="#f0c482" opacity="1"/>
<ellipse cx="458.2" cy="612.8" rx="3.3" ry="4.62" fill="#b462d2" opacity="1"/>
</g>
<g filter="url(#b1)">
<ellipse cx="508.5" cy="618.3" rx="4" ry="4" fill="#f0c070" opacity="1"/>
<ellipse cx="508.5" cy="617.5" rx="3" ry="3" fill="#a452c4" opacity="1"/>
</g>
<g filter="url(#b1)">
<ellipse cx="503.8" cy="625" rx="4.5" ry="4.95" fill="#e8b470" opacity="1"/>
<ellipse cx="503.8" cy="625" rx="3.5" ry="3.95" fill="#f0d2a4" opacity="1"/>
</g>
<g filter="url(#b1)">
<ellipse cx="465" cy="635.8" rx="4.5" ry="4.5" fill="#f0a242" opacity="1"/>
<ellipse cx="465" cy="634.9" rx="3.5" ry="3.5" fill="#a462ca" opacity="1"/>
</g>
<g filter="url(#b1)">
<ellipse cx="492.3" cy="680" rx="5" ry="5" fill="#d83a52" opacity="1"/>
<ellipse cx="492.3" cy="680" rx="3.8" ry="3.8" fill="#e24472" opacity="1"/>
</g>
<g filter="url(#b1)">
<ellipse cx="491.5" cy="690" rx="5.5" ry="5.5" fill="#f0a83a" opacity="1"/>
<ellipse cx="491.8" cy="690.6" rx="4.2" ry="4.2" fill="#d474c4" opacity="1"/>
</g>
<g filter="url(#b1)">
<ellipse cx="469.2" cy="701.6" rx="5.5" ry="5.5" fill="#c03050" opacity="1"/>
<ellipse cx="469.2" cy="701.6" rx="4.3" ry="4.3" fill="#d23c64" opacity="1"/>
</g>
</g>
<text x="21.2" y="603" font-size="8"><tspan fill="#7aa868">CD180</tspan><tspan fill="#d8d8d8">/</tspan><tspan fill="#c82424">pJNK</tspan><tspan fill="#d8d8d8">/</tspan><tspan fill="#5c7cb0">DAPI</tspan></text>
<text x="294.3" y="603" font-size="8"><tspan fill="#7aa868">CD180</tspan><tspan fill="#d8d8d8">/</tspan><tspan fill="#c82424">pERK</tspan><tspan fill="#d8d8d8">/</tspan><tspan fill="#5c7cb0">DAPI</tspan></text>
<line x1="221.3" y1="729.2" x2="233" y2="729.2" stroke="#151515" stroke-width="0.9" shape-rendering="crispEdges"/>
<line x1="221.3" y1="727" x2="221.3" y2="731.3" stroke="#151515" stroke-width="0.9" shape-rendering="crispEdges"/>
<line x1="233" y1="727" x2="233" y2="731.3" stroke="#151515" stroke-width="0.9" shape-rendering="crispEdges"/>
<text x="226.8" y="740.5" font-size="9.7" fill="#1a1a1a" stroke="#1a1a1a" stroke-width="0.3" text-anchor="middle">30 μm</text>
<line x1="491.5" y1="729.2" x2="502.8" y2="729.2" stroke="#151515" stroke-width="0.9" shape-rendering="crispEdges"/>
<line x1="491.5" y1="727" x2="491.5" y2="731.3" stroke="#151515" stroke-width="0.9" shape-rendering="crispEdges"/>
<line x1="502.8" y1="727" x2="502.8" y2="731.3" stroke="#151515" stroke-width="0.9" shape-rendering="crispEdges"/>
<text x="498.2" y="740.5" font-size="9.7" fill="#1a1a1a" stroke="#1a1a1a" stroke-width="0.3" text-anchor="middle">30 μm</text>
</svg></body></html>
